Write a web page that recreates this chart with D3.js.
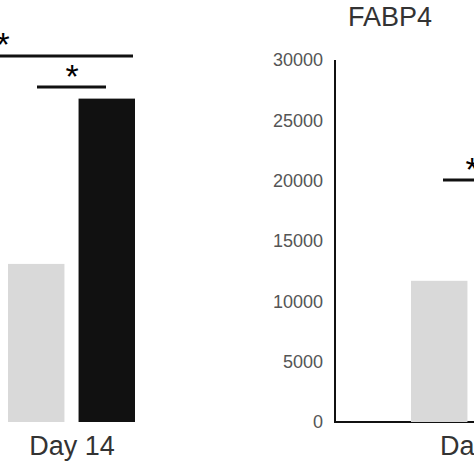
<!DOCTYPE html><html><head><meta charset="utf-8">
<script src="https://cdn.jsdelivr.net/npm/d3@7"></script>
<style>body{margin:0;background:#fff}</style></head><body><svg id="c" width="474" height="474"></svg>
<script>
const leftCats=["Ctrl","Treated"];
const leftValues=[13100,26800];
const rightCats=["Ctrl"];
const rightValues=[11700];
const yTicks=[0,5000,10000,15000,20000,25000,30000];
const xLabels=["Day 14","Day 14"];
const title="FABP4";
const colors=["#d9d9d9","#111"];
const svg=d3.select("#c");
const font="Liberation Sans, Arial, sans-serif";
const y=d3.scaleLinear().domain([0,30000]).range([422,60]);
// left panel
const xl=d3.scaleBand().domain(leftCats).range([8,135]).paddingInner(0.2).paddingOuter(0);
svg.selectAll(".lb").data(leftValues).join("rect").attr("x",(d,i)=>xl(leftCats[i])).attr("width",xl.bandwidth())
 .attr("y",d=>y(d)).attr("height",d=>y(0)-y(d)).attr("fill",(d,i)=>colors[i]);
svg.append("text").attr("x",72).attr("y",455).attr("text-anchor","middle").attr("font-family",font).attr("font-size",27).attr("fill","#333").text(xLabels[0]);
svg.append("line").attr("x1",0).attr("x2",133).attr("y1",56).attr("y2",56).attr("stroke","#111").attr("stroke-width",3);
svg.append("line").attr("x1",37).attr("x2",106).attr("y1",87).attr("y2",87).attr("stroke","#111").attr("stroke-width",3);
svg.append("text").attr("x",3).attr("y",56).attr("text-anchor","middle").attr("font-family",font).attr("font-size",34).text("*");
svg.append("text").attr("x",72).attr("y",88).attr("text-anchor","middle").attr("font-family",font).attr("font-size",34).text("*");
// right panel
const g=svg.append("g").attr("transform","translate(335,0)");
g.call(d3.axisLeft(y).tickValues(yTicks).tickSize(0).tickPadding(12).tickFormat(d3.format("d")))
 .call(a=>a.select(".domain").attr("stroke","#111").attr("stroke-width",2).attr("d","M0,60V422"))
 .call(a=>a.selectAll("text").attr("font-family",font).attr("font-size",18).attr("fill","#555"));
svg.append("line").attr("x1",334).attr("x2",474).attr("y1",422).attr("y2",422).attr("stroke","#111").attr("stroke-width",2);
const xr=d3.scaleBand().domain(["Ctrl","Treated"]).range([411,538]).paddingInner(0.2).paddingOuter(0);
svg.selectAll(".rb").data(rightValues).join("rect").attr("x",(d,i)=>xr(rightCats[i])).attr("width",xr.bandwidth())
 .attr("y",d=>y(d)).attr("height",d=>y(0)-y(d)).attr("fill",colors[0]);
svg.append("text").attr("x",348).attr("y",26).attr("font-family",font).attr("font-size",27).attr("fill","#333").text(title);
svg.append("text").attr("x",440).attr("y",455).attr("font-family",font).attr("font-size",27).attr("fill","#333").text(xLabels[1]);
svg.append("line").attr("x1",443).attr("x2",474).attr("y1",180).attr("y2",180).attr("stroke","#111").attr("stroke-width",3);
svg.append("text").attr("x",472).attr("y",181).attr("text-anchor","middle").attr("font-family",font).attr("font-size",34).text("*");
</script></body></html>
